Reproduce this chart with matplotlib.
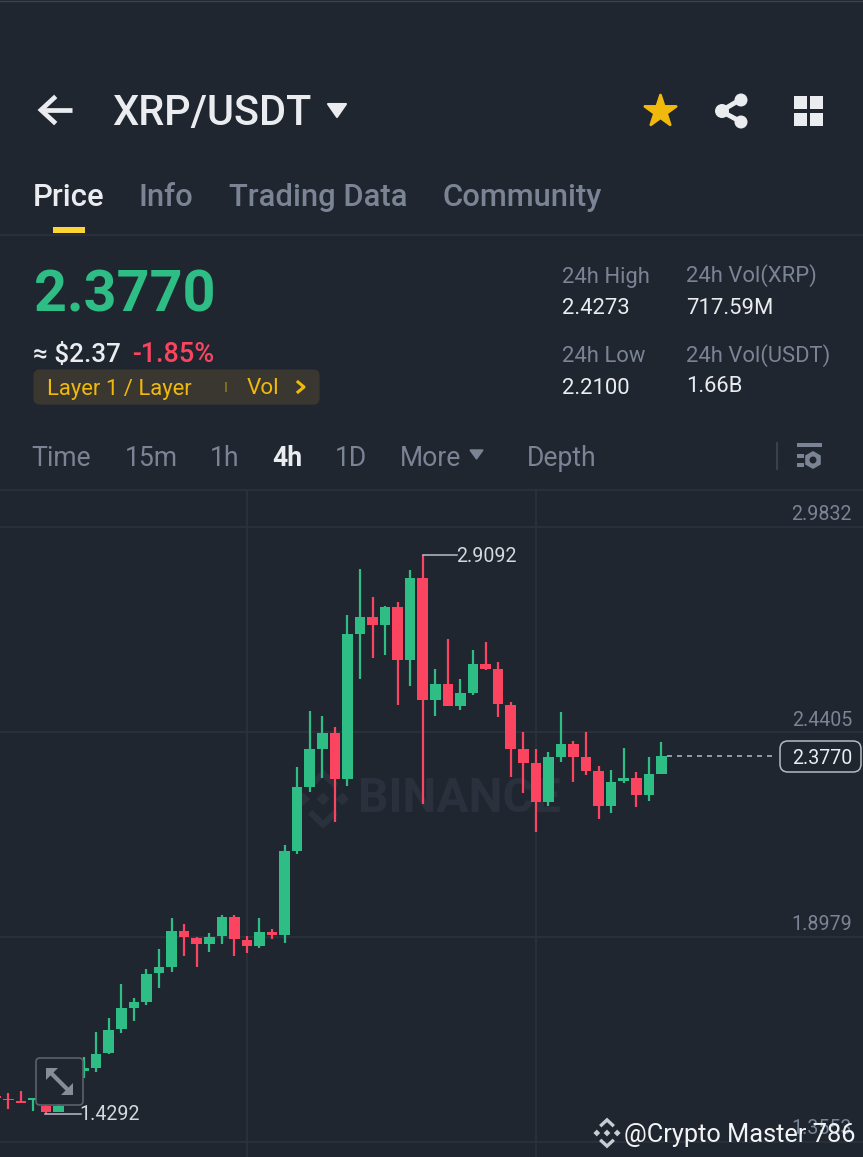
import matplotlib
matplotlib.use('Agg')
import matplotlib.pyplot as plt
from matplotlib.patches import FancyBboxPatch, Polygon, Rectangle, Circle, RegularPolygon

plt.rcParams['font.family'] = ['Roboto', 'DejaVu Sans']

# precos, um valor por candle
opens = [1.477, 1.4690, 1.4638, 1.4664, 1.4505, 1.4346, 1.4796, 1.5432, 1.5519, 1.5900, 1.6535, 1.7107, 1.7266,
         1.8026, 1.8192, 1.9129, 1.8952, 1.8785, 1.9005, 1.9508, 1.8899, 1.8732, 1.9118, 1.9023, 2.1255, 2.2941,
         2.3955, 2.4386, 2.3153, 2.6999, 2.7457, 2.7237, 2.7722, 2.6303, 2.8489, 2.5252, 2.5683, 2.5101, 2.5445,
         2.6205, 2.6081, 2.5120, 2.3947, 2.3576, 2.2552, 2.3751, 2.4087, 2.3735, 2.3365, 2.2446, 2.3100, 2.3195,
         2.2745, 2.3301]
closes = [1.4717, 1.4656, 1.4593, 1.4709, 1.4346, 1.4505, 1.5061, 1.5511, 1.5890, 1.6525, 1.7091, 1.7258, 1.7999,
          1.8177, 1.9129, 1.8979, 1.8785, 1.8987, 1.9508, 1.8917, 1.8740, 1.9111, 1.9031, 2.1255, 2.2941, 2.3947,
          2.4386, 2.3161, 2.6991, 2.7457, 2.7245, 2.7722, 2.6303, 2.8489, 2.5252, 2.5683, 2.5101, 2.5437, 2.6205,
          2.6081, 2.5138, 2.3955, 2.3584, 2.2552, 2.3743, 2.4087, 2.3743, 2.3381, 2.2446, 2.3081, 2.3187, 2.2745,
          2.3285, 2.3770]
highs = [1.486, 1.4841, 1.4910, 1.4725, 1.4585, 1.4638, 1.5193, 1.5802, 1.6464, 1.6835, 1.7735, 1.7356, 1.8140,
         1.8661, 1.9490, 1.9323, 1.8987, 1.9093, 1.9569, 1.9561, 1.9005, 1.9490, 1.9203, 2.1414, 2.3486, 2.4969,
         2.4836, 2.4545, 2.7510, 2.8712, 2.7986, 2.7748, 2.7838, 2.8693, 2.9092, 2.6065, 2.6875, 2.5800, 2.6576,
         2.6795, 2.6266, 2.5207, 2.4413, 2.3947, 2.3868, 2.4934, 2.4167, 2.4397, 2.3497, 2.3391, 2.3989, 2.3354,
         2.3735, 2.4148]
lows = [1.465, 1.4418, 1.4593, 1.4373, 1.4292, 1.4333, 1.4664, 1.5246, 1.5405, 1.5890, 1.6437, 1.6747, 1.7179,
        1.7637, 1.8052, 1.8476, 1.8192, 1.8574, 1.8796, 1.8484, 1.8563, 1.8696, 1.8920, 1.8812, 2.1176, 2.2809,
        2.3195, 2.2023, 2.2984, 2.5808, 2.6356, 2.6443, 2.5112, 2.5631, 2.2499, 2.4829, 2.5101, 2.4987, 2.5384,
        2.6038, 2.4802, 2.3206, 2.2798, 2.1750, 2.2446, 2.3603, 2.3074, 2.3267, 2.2094, 2.2253, 2.3055, 2.2420,
        2.2579, 2.3301]
candle_idx = list(range(-1, 53))

grid_prices = [2.9832, 2.4405, 1.8979, 1.3553]
grid_labels = ['2.9832', '2.4405', '1.8979', '1.3553']
grid_candles = [19, 42]
last_price = 2.3770
max_idx, max_price = 33, 2.9092
min_idx, min_price = 3, 1.4292

tabs = ['Price', 'Info', 'Trading Data', 'Community']
tabs_x = [33, 138, 229, 442]
periods = ['Time', '15m', '1h', '4h', '1D', 'More', 'Depth']
periods_x = [31, 125, 210, 272, 335, 400, 527]

BG = '#1f2630'
GREEN = '#2ebd85'
RED = '#fb4560'
GRID = '#2b323d'
GRAY = '#7b8494'
WHITE = '#eaecef'
YELLOW = '#f0b90b'
MARK = '#2a313c'

fig = plt.figure(figsize=(8.63, 11.57), dpi=100, facecolor=BG)

# fundo em pixels, so para a marca d'agua ficar atras dos candles
back = fig.add_axes([0, 0, 1, 1], facecolor=BG)
back.set_xlim(0, 863)
back.set_ylim(1157, 0)
back.axis('off')

# eixo do grafico: de y=490 ate o fim da figura
ax = fig.add_axes([0, 0, 1, (1157 - 490) / 1157], facecolor='none')
ax.set_xlim(-0.66, 68.05)
ax.set_ylim(1.3155, 3.0811)
ax.axis('off')

for p in grid_prices:
    ax.axhline(p, color=GRID, lw=1.3, zorder=1)
for c in grid_candles:
    ax.axvline(c, color=GRID, lw=1.3, zorder=1)

for i, o, h, l, c in zip(candle_idx, opens, highs, lows, closes):
    col = GREEN if c >= o else RED
    ax.plot([i, i], [l, h], color=col, lw=1.6, solid_capstyle='butt', zorder=3)
    ax.add_patch(Rectangle((i - 0.42, min(o, c)), 0.84, abs(c - o), facecolor=col, edgecolor='none', zorder=3))

ax.plot([52.45, 60.9], [last_price, last_price], color='#aab0ba', lw=1.2, ls=(0, (3, 3)), zorder=3)
ax.plot([max_idx, 35.75], [max_price, max_price], color='#b9bec6', lw=1.1, zorder=4)
ax.plot([min_idx - 0.1, 5.75], [min_price, min_price], color='#b9bec6', lw=1.1, zorder=4)

# eixo em pixels para a interface
ui = fig.add_axes([0, 0, 1, 1], facecolor='none')
ui.set_xlim(0, 863)
ui.set_ylim(1157, 0)
ui.axis('off')


def txt(x, y, s, size, color, weight='normal', ha='left', zorder=6):
    ui.text(x, y, s, fontsize=size * 0.72, color=color, fontweight=weight, ha=ha, va='center', zorder=zorder)


def logo(a, cx, cy, r, color, lw, z):
    # losango central, dois laterais e duas divisas
    a.add_patch(RegularPolygon((cx, cy), 4, radius=r, fc=color, ec='none', zorder=z))
    a.add_patch(RegularPolygon((cx - 3 * r, cy), 4, radius=r, fc=color, ec='none', zorder=z))
    a.add_patch(RegularPolygon((cx + 3 * r, cy), 4, radius=r, fc=color, ec='none', zorder=z))
    a.plot([cx - 2 * r, cx, cx + 2 * r], [cy - 2 * r, cy - 4 * r + 0.5, cy - 2 * r], color=color, lw=lw,
           solid_capstyle='butt', solid_joinstyle='miter', zorder=z)
    a.plot([cx - 2 * r, cx, cx + 2 * r], [cy + 2 * r, cy + 4 * r - 0.5, cy + 2 * r], color=color, lw=lw,
           solid_capstyle='butt', solid_joinstyle='miter', zorder=z)


# cabecalho
ui.plot([0, 863], [0.5, 0.5], color='#3a414c', lw=1)
ui.plot([41, 72], [110, 110], color=WHITE, lw=3.4, solid_capstyle='butt')
ui.plot([54, 41, 54], [98, 110, 122], color=WHITE, lw=3.4, solid_joinstyle='miter')
txt(112, 114, 'XRP/USDT', 41.5, WHITE, 'medium')
ui.add_patch(Polygon([[328, 104], [346, 104], [337, 117]], closed=True, fc=WHITE, ec=WHITE, lw=1.5, joinstyle='round'))
ui.scatter([660], [111], marker='*', s=560, c=YELLOW, edgecolors=YELLOW, linewidths=2, zorder=5)
ui.plot([743, 721, 743], [98, 111, 123], color=WHITE, lw=3.5)
for sx, sy, sr in [(741, 100, 6.5), (722, 111, 7), (741, 122, 6.5)]:
    ui.add_patch(Circle((sx, sy), sr, fc=WHITE, ec='none'))
for gx in [794, 810]:
    for gy in [96, 113]:
        ui.add_patch(Rectangle((gx, gy), 13, 12.5, fc=WHITE, ec='none'))

for t, x in zip(tabs, tabs_x):
    txt(x, 197, t, 31, WHITE if t == 'Price' else GRAY, 'medium')
ui.add_patch(Rectangle((53, 227), 32, 6, fc='#fcd535', ec='none', zorder=5))
ui.plot([0, 863], [234.5, 234.5], color=GRID, lw=1.3)

# preco
txt(34, 296, '2.3770', 57.5, GREEN, 'bold')
txt(33, 355, '≈ $2.37', 26, WHITE, 'medium')
txt(132, 355, '-1.85%', 27, RED, 'medium')
ui.add_patch(FancyBboxPatch((39, 375), 275, 24, boxstyle='round,pad=0,rounding_size=0', fc='#3a3730', ec='#3a3730', lw=8, joinstyle='round'))
txt(47, 389, 'Layer 1 / Layer', 22, YELLOW)
txt(247, 389, 'Vol', 22.5, YELLOW)
ui.plot([226, 226], [383, 391], color='#7b6a22', lw=1.5)
ui.plot([298, 304, 298], [382, 387, 392], color=YELLOW, lw=2.2)

txt(562, 278, '24h High', 22, GRAY)
txt(562, 308, '2.4273', 22, WHITE)
txt(686, 276, '24h Vol(XRP)', 22, GRAY)
txt(686, 308, '717.59M', 22, WHITE)
txt(562, 357, '24h Low', 22, GRAY)
txt(562, 388, '2.2100', 22, WHITE)
txt(686, 356, '24h Vol(USDT)', 22, GRAY)
txt(686, 387, '1.66B', 22, WHITE)

# barra de periodos
for t, x in zip(periods, periods_x):
    if t == '4h':
        txt(x, 459, t, 26.5, WHITE, 'bold')
    else:
        txt(x, 459, t, 26.5, GRAY)
ui.add_patch(Polygon([[470, 450], [483, 450], [476.5, 459]], closed=True, fc=GRAY, ec=GRAY, lw=1))
ui.plot([777, 777], [443, 469], color='#3a414c', lw=1.5)
ui.add_patch(Rectangle((797, 443), 25, 4, fc=GRAY, ec='none'))
ui.add_patch(Rectangle((797, 454), 7, 3.5, fc=GRAY, ec='none'))
ui.add_patch(Rectangle((797, 463), 7, 3.5, fc=GRAY, ec='none'))
ui.add_patch(RegularPolygon((813, 460), 6, radius=9, fc=GRAY, ec='none'))
ui.add_patch(Circle((813, 460), 3.5, fc=BG, ec='none'))
ui.plot([0, 863], [490, 490], color=GRID, lw=1.3)

# marca d'agua
back.text(358, 799, 'BINANCE', fontsize=34.5, fontweight='bold', color=MARK, ha='left', va='center', zorder=2)
logo(back, 323, 799, 6.5, MARK, 4.5, 2)

# rotulos do eixo
for lab, p in zip(grid_labels[:3], [515, 721, 925]):
    txt(852, p, lab, 19.7, GRAY, ha='right')
txt(852, 1129, grid_labels[3], 19.7, GRAY, ha='right')
txt(456, 556, '2.9092', 19.7, '#d5d8dd')
txt(79, 1115, '1.4292', 19.7, '#d5d8dd')

ui.add_patch(FancyBboxPatch((780, 741), 81, 31, boxstyle='round,pad=0,rounding_size=8', fc=BG, ec='#b5bac2', lw=1.1, zorder=5))
txt(852, 759, '2.3770', 19.7, WHITE, ha='right')

# botao de expandir
ui.add_patch(FancyBboxPatch((36, 1058), 47, 47, boxstyle='round,pad=0,rounding_size=4', fc=BG, ec='#5a616c', lw=1.2, zorder=5))
ui.add_patch(Polygon([[46, 1068], [58, 1068], [46, 1080]], closed=True, fc='#868d98', ec='none', zorder=6))
ui.add_patch(Polygon([[73, 1095], [61, 1095], [73, 1083]], closed=True, fc='#868d98', ec='none', zorder=6))
ui.plot([50, 69], [1072, 1091], color='#868d98', lw=3, zorder=6)

# assinatura do post
logo(ui, 607, 1133, 3.4, '#c9ccd1', 2.4, 7)
txt(624, 1135, '@Crypto Master 786', 25.4, '#f2f3f5', zorder=8)

fig.savefig('out.png', dpi=100, facecolor=BG)
